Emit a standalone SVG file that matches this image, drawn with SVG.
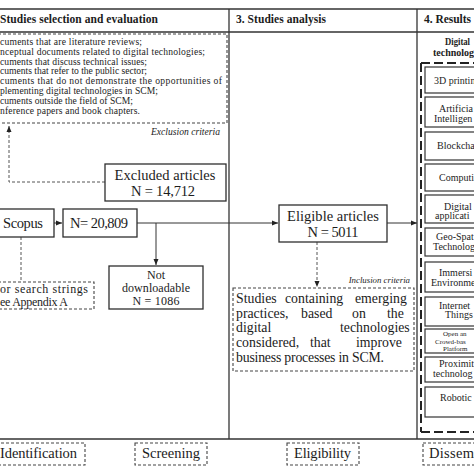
<svg xmlns="http://www.w3.org/2000/svg" width="474" height="474" viewBox="0 0 474 474">
<defs>
<style>
text{font-family:"Liberation Serif","DejaVu Serif",serif;fill:#1c1c1c}
.hdr{font-size:11.5px;font-weight:bold}
.box{fill:#fff;stroke:#2e2e2e;stroke-width:1.3}
.dbox{fill:#fff;stroke:#444;stroke-width:1.1;stroke-dasharray:3,2}
.line{stroke:#333;stroke-width:1;fill:none}
.dline{stroke:#555;stroke-width:1;fill:none;stroke-dasharray:3,2}
.frame{stroke:#333;stroke-width:1.3;fill:none}
.ex{font-size:9.6px}
.big{font-size:14.5px}
.mid{font-size:12px}
.inc{font-size:13.8px}
.it{font-style:italic}
.res{font-size:10px}
.sm{font-size:7px}
.rbox{fill:#fff;stroke:#333;stroke-width:1.2}
.lbl{font-size:14.5px}
</style>
<marker id="ah" viewBox="0 0 6 6" refX="6" refY="3" markerWidth="6" markerHeight="6" orient="auto" markerUnits="userSpaceOnUse">
<path d="M0,0.5 L6,3 L0,5.5 Z" fill="#222"/>
</marker>
</defs>
<rect x="0" y="0" width="474" height="474" fill="#fff"/>

<g id="frame">
<line class="frame" x1="0" y1="9" x2="474" y2="9"/>
<line class="frame" x1="0" y1="32" x2="474" y2="32"/>
<line class="frame" x1="229" y1="9" x2="229" y2="439"/>
<line class="frame" x1="417" y1="9" x2="417" y2="439"/>
<line class="frame" x1="0" y1="439" x2="474" y2="439"/>
<text class="hdr" x="0" y="23" textLength="158" lengthAdjust="spacing">Studies selection and evaluation</text>
<text class="hdr" x="236" y="23" textLength="90" lengthAdjust="spacing">3. Studies analysis</text>
<text class="hdr" x="424" y="23" textLength="47" lengthAdjust="spacing">4. Results</text>
</g>

<g id="connectors">
<path class="dline" d="M105,182 H9 V126" marker-end="url(#ah)"/>
<line class="line" x1="54" y1="223" x2="62" y2="223" marker-end="url(#ah)"/>
<line class="line" x1="137" y1="223" x2="278" y2="223" marker-end="url(#ah)"/>
<line class="line" x1="156" y1="223" x2="156" y2="265" marker-end="url(#ah)"/>
<line class="dline" x1="21" y1="237" x2="21" y2="282"/>
<line class="line" x1="387" y1="223" x2="417" y2="223" marker-end="url(#ah)"/>
<line class="dline" x1="317" y1="242" x2="317" y2="287" marker-end="url(#ah)"/>
</g>

<g id="exclusion">
<rect class="dbox" x="-2" y="34" width="229" height="89"/>
<text class="ex" x="0" y="45" textLength="142" lengthAdjust="spacing">cuments that are literature reviews;</text>
<text class="ex" x="0" y="54.8" textLength="205" lengthAdjust="spacing">nceptual documents related to digital technologies;</text>
<text class="ex" x="0" y="64.6" textLength="147" lengthAdjust="spacing">cuments that discuss technical issues;</text>
<text class="ex" x="0" y="74.4" textLength="147" lengthAdjust="spacing">cuments that refer to the public sector;</text>
<text class="ex" x="0" y="84.2" textLength="222" lengthAdjust="spacing">cuments that do not demonstrate the opportunities of</text>
<text class="ex" x="0" y="94" textLength="158" lengthAdjust="spacing">plementing digital technologies in SCM;</text>
<text class="ex" x="0" y="103.8" textLength="133" lengthAdjust="spacing">cuments outside the field of SCM;</text>
<text class="ex" x="0" y="113.6" textLength="140" lengthAdjust="spacing">nference papers and book chapters.</text>
<text class="ex it" x="220" y="135" text-anchor="end">Exclusion criteria</text>
</g>

<g id="excluded">
<rect class="box" x="105" y="164" width="121" height="37"/>
<text class="big" x="165" y="180" text-anchor="middle" textLength="101" lengthAdjust="spacing">Excluded articles</text>
<text class="big" x="163" y="196" text-anchor="middle" textLength="64" lengthAdjust="spacing">N = 14,712</text>
</g>

<g id="scopus">
<rect class="box" x="-2" y="209" width="56" height="28"/>
<text class="big" x="3" y="228" textLength="40" lengthAdjust="spacing">Scopus</text>
</g>

<g id="n20809">
<rect class="box" x="63" y="209" width="74" height="28"/>
<text class="big" x="70" y="228" textLength="58" lengthAdjust="spacing">N= 20,809</text>
</g>

<g id="notdownloadable">
<rect class="box" x="109" y="266" width="94" height="43"/>
<text class="mid" x="156" y="279" text-anchor="middle">Not</text>
<text class="mid" x="156" y="292" text-anchor="middle" textLength="68" lengthAdjust="spacing">downloadable</text>
<text class="mid" x="156" y="305" text-anchor="middle" textLength="47" lengthAdjust="spacing">N = 1086</text>
</g>

<g id="searchstrings">
<rect class="dbox" x="-2" y="282" width="96" height="27"/>
<text class="mid" x="0" y="293" textLength="88" lengthAdjust="spacing">or search strings</text>
<text class="mid" x="0" y="306" textLength="68" lengthAdjust="spacing">ee Appendix A</text>
</g>

<g id="eligible">
<rect class="box" x="279" y="205" width="108" height="37"/>
<text class="big" x="333" y="221" text-anchor="middle" textLength="92" lengthAdjust="spacing">Eligible articles</text>
<text class="big" x="333" y="237" text-anchor="middle" textLength="51" lengthAdjust="spacing">N = 5011</text>
</g>

<g id="inclusion">
<text class="ex it" x="410" y="283" text-anchor="end" style="font-size:8.8px">Inclusion criteria</text>
<rect class="dbox" x="233" y="288" width="181" height="83"/>
<text class="inc" y="303"><tspan x="236">Studies</tspan><tspan x="285">containing</tspan><tspan x="355">emerging</tspan></text>
<text class="inc" y="317.5"><tspan x="236">practices,</tspan><tspan x="301">based</tspan><tspan x="352">on</tspan><tspan x="387">the</tspan></text>
<text class="inc" y="332"><tspan x="236">digital</tspan><tspan x="340">technologies</tspan></text>
<text class="inc" y="347"><tspan x="236">considered,</tspan><tspan x="310">that</tspan><tspan x="356">improve</tspan></text>
<text class="inc" x="236" y="361.5" textLength="148" lengthAdjust="spacing">business processes in SCM.</text>
</g>

<g id="results">
<text class="res" x="445" y="45" style="font-weight:bold" textLength="25" lengthAdjust="spacingAndGlyphs">Digital</text>
<text class="res" x="433" y="56" style="font-weight:bold">technolog</text>
<path d="M421,63 H480 M421,63 V432 M421,432 H480" fill="none" stroke="#222" stroke-width="2" stroke-dasharray="9,4"/>
</g>

<g id="r3d"><rect class="rbox" x="425" y="67" width="60" height="26"/><text class="res" x="434" y="83.5">3D printin</text></g>
<g id="rai"><rect class="rbox" x="425" y="97" width="60" height="30"/><text class="res" x="439" y="112">Artificia</text><text class="res" x="434" y="122">Intelligen</text></g>
<g id="rblock"><rect class="rbox" x="425" y="132" width="60" height="28"/><text class="res" x="437" y="149">Blockcha</text></g>
<g id="rcomp"><rect class="rbox" x="425" y="164" width="60" height="27"/><text class="res" x="439" y="181">Computi</text></g>
<g id="rdigital"><rect class="rbox" x="425" y="195" width="60" height="28"/><text class="res" x="444" y="209.5">Digital</text><text class="res" x="435" y="219">applicati</text></g>
<g id="rgeo"><rect class="rbox" x="425" y="228" width="60" height="28"/><text class="res" x="436" y="240">Geo-Spat</text><text class="res" x="433" y="250">Technolog</text></g>
<g id="rimm"><rect class="rbox" x="425" y="262" width="60" height="30"/><text class="res" x="439" y="276">Immersi</text><text class="res" x="431" y="286">Environme</text></g>
<g id="riot"><rect class="rbox" x="425" y="297" width="60" height="29"/><text class="res" x="439" y="308.5">Internet</text><text class="res" x="445" y="318">Things</text></g>
<g id="ropen"><rect class="rbox" x="425" y="329" width="60" height="24"/><text class="sm" x="443" y="336">Open an</text><text class="sm" x="435" y="343.5">Crowd-bas</text><text class="sm" x="443" y="351">Platform</text></g>
<g id="rprox"><rect class="rbox" x="425" y="357" width="60" height="25"/><text class="res" x="439" y="367">Proximit</text><text class="res" x="433" y="377">technolog</text></g>
<g id="rrob"><rect class="rbox" x="425" y="387" width="60" height="30"/><text class="res" x="440" y="401">Robotic</text></g>

<g id="identification"><rect class="dbox" x="-4" y="443" width="89" height="22"/><text class="lbl" x="0" y="458" textLength="77" lengthAdjust="spacing">Identification</text></g>
<g id="screening"><rect class="dbox" x="135" y="443" width="72" height="22"/><text class="lbl" x="142" y="458" textLength="58" lengthAdjust="spacing">Screening</text></g>
<g id="eligibility"><rect class="dbox" x="287" y="443" width="72" height="22"/><text class="lbl" x="294" y="458" textLength="57" lengthAdjust="spacing">Eligibility</text></g>
<g id="dissemination"><rect class="dbox" x="423" y="443" width="60" height="22"/><text class="lbl" x="429" y="458" textLength="45" lengthAdjust="spacing">Dissem</text></g>
</svg>
